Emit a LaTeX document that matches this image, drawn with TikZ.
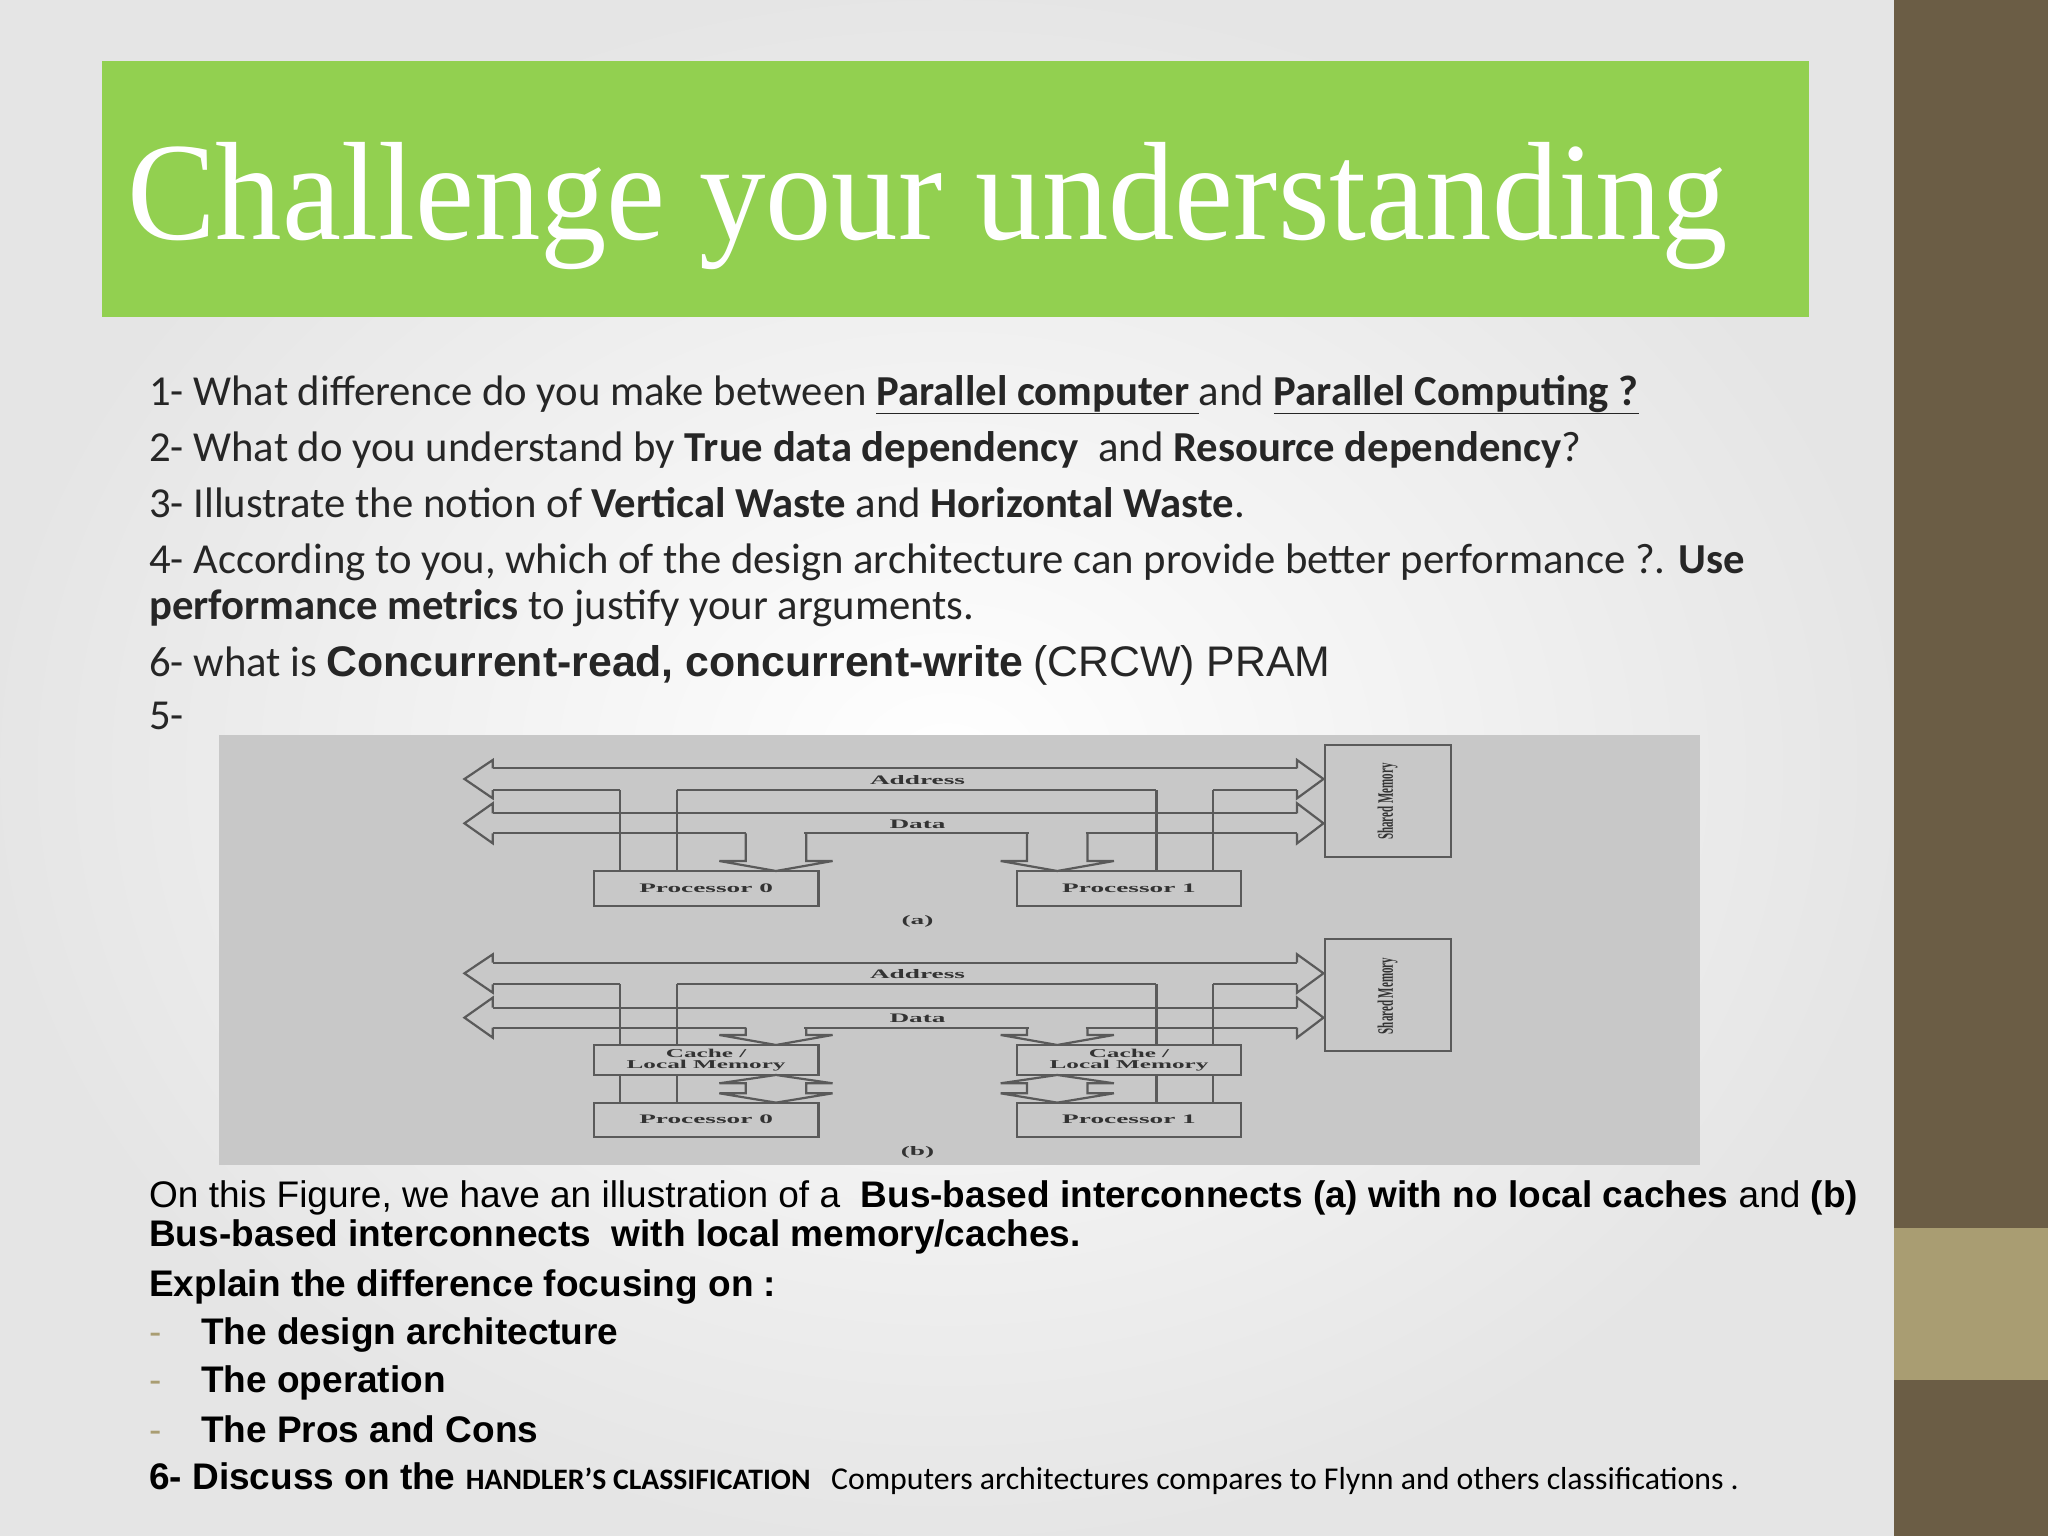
\documentclass[tikz,border=0pt]{standalone}
\usepackage{fontspec}
\usepackage{graphicx}
\setmainfont{Carlito}
\newfontfamily\arialf{Liberation Sans}
\newfontfamily\timesf{Liberation Serif}
\definecolor{gbar}{HTML}{92D050}
\definecolor{strip}{HTML}{6B5D45}
\definecolor{band}{HTML}{A99D72}
\definecolor{figbg}{HTML}{C8C8C8}
\definecolor{ln}{HTML}{5A5A5A}
\definecolor{dashc}{HTML}{A99D72}
\tikzset{
 body/.style={anchor=base west,inner sep=0pt,font=\fontsize{42.7}{49}\selectfont,text=black!85},
 bodya/.style={anchor=base west,inner sep=0pt,font=\arialf\fontsize{37}{42}\selectfont,text=black},
 fl/.style={draw=ln,line width=2.2pt},
 fbox/.style={draw=ln,line width=2.2pt},
 ft/.style={font=\timesf\bfseries\fontsize{13}{14}\selectfont,text=black!80,inner sep=0pt},
}
\newcommand\fw[1]{\scalebox{2.1}[1]{#1}}
\begin{document}
\begin{tikzpicture}[x=1pt,y=-1pt]
\useasboundingbox (0,0) rectangle (2048,1536);
\shade[inner color=white,outer color=black!10] (0,0) rectangle (1894,1536);
\fill[strip] (1894,0) rectangle (2048,1536);
\fill[band] (1894,1228) rectangle (2048,1380);
\fill[gbar] (102,61) rectangle (1809,317);
\node[anchor=base west,inner sep=0pt,text=white,font=\timesf\fontsize{140}{150}\selectfont] (title) at (127,239) {\resizebox{1601pt}{\height}{Challenge your understanding}};

\node[body] (l1) at (149,405) {1- What difference do you make between \textbf{\underline{Parallel computer }}and \textbf{\underline{Parallel Computing ?}}};
\node[body] (l2) at (149,461) {2- What do you understand by \textbf{True data dependency}\ \ and \textbf{Resource dependency}?};
\node[body] (l3) at (149,517) {3- Illustrate the notion of \textbf{Vertical Waste} and \textbf{Horizontal Waste}.};
\node[body] (l4) at (149,573) {4- According to you, which of the design architecture can provide better performance ?. \textbf{Use}};
\node[body] (l4b) at (149,619) {\textbf{performance metrics} to justify your arguments.};
\node[body] (l6) at (149,676) {6- what is {\arialf\bfseries\fontsize{42.8}{46}\selectfont Concurrent-read, concurrent-write} {\arialf\fontsize{42.8}{46}\selectfont (CRCW) PRAM}};
\node[body] (l5) at (149,729) {5-};

\fill[figbg] (219,735) rectangle (1700,1165);
\begin{scope}[shift={(219,735)},xscale=0.944,yscale=0.3333]
 \foreach \dy/\tip in {0/408,583/347}{
 \begin{scope}[yshift=-\dy pt]
  \draw[fl] (290,100) -- (1142,100);
  \draw[fl] (290,165) -- (425,165) (485,165) -- (993,165) (1053,165) -- (1142,165);
  \draw[fl] (1142,100) -- (1142,75) -- (1170,132) -- (1142,190) -- (1142,165);
  \draw[fl] (290,100) -- (290,75) -- (260,132) -- (290,190) -- (290,165);
  \node[ft] at (740,135) {\fw{Address}};
  \draw[fl] (290,235) -- (1142,235);
  \draw[fl] (290,295) -- (558,295) (620,295) -- (858,295) (918,295) -- (1142,295);
  \draw[fl] (1142,235) -- (1142,205) -- (1170,265) -- (1142,325) -- (1142,295);
  \draw[fl] (290,235) -- (290,205) -- (260,265) -- (290,325) -- (290,295);
  \node[ft] at (740,268) {\fw{Data}};
  \foreach \c in {590,888}{
   \draw[fl] (\c-32,295) -- (\c-32,\tip-30) -- (\c-60,\tip-30) -- (\c,\tip) -- (\c+60,\tip-30) -- (\c+32,\tip-30) -- (\c+32,295);
  }
  \draw[fbox] (1172,30) rectangle (1305,365);
  \node[ft,rotate=90,font=\timesf\bfseries\fontsize{22}{24}\selectfont] at (1238,200) {\scalebox{0.5}[1]{Shared Memory}};
 \end{scope}
 }
 \draw[fbox] (397,408) rectangle (635,512);
 \node[ft] at (516,460) {\fw{Processor 0}};
 \draw[fbox] (845,408) rectangle (1083,512);
 \node[ft] at (964,460) {\fw{Processor 1}};
 \foreach \x in {425,485,993,1053}{\draw[fl] (\x,165) -- (\x,408);}
 \node[ft] at (740,560) {\fw{(a)}};
 \foreach \x in {425,485,993,1053}{\draw[fl] (\x,748) -- (\x,930) (\x,1020) -- (\x,1103);}
 \foreach \cx/\nm in {516/0,964/1}{
  \draw[fbox,fill=figbg] (\cx-119,930) rectangle (\cx+119,1020);
  \node[ft,align=center,font=\timesf\bfseries\fontsize{12}{11}\selectfont] at (\cx,976) {\fw{Cache /}\\\fw{Local Memory}};
  \draw[fbox] (\cx-119,1103) rectangle (\cx+119,1205);
  \node[ft] at (\cx,1153) {\fw{Processor \nm}};
 }
 \foreach \c in {590,888}{
  \draw[fl] (\c-32,1045) -- (\c-60,1045) -- (\c,1020) -- (\c+60,1045) -- (\c+32,1045) -- (\c+32,1075) -- (\c+60,1075) -- (\c,1103) -- (\c-60,1075) -- (\c-32,1075) -- cycle;
 }
 \node[ft] at (740,1253) {\fw{(b)}};
\end{scope}

\node[bodya] (b1) at (149,1207) {On this Figure, we have an illustration of a \ \textbf{Bus-based interconnects (a) with no local caches} and \textbf{(b)}};
\node[bodya,font=\arialf\bfseries\fontsize{37}{42}\selectfont] (b2) at (149,1246) {Bus-based interconnects\ \ with local memory/caches.};
\node[bodya,font=\arialf\bfseries\fontsize{37}{42}\selectfont] (b3) at (149,1296) {Explain the difference focusing on :};
\foreach \yy/\tt in {1344/The design architecture,1392/The operation,1442/The Pros and Cons}{
 \node[bodya,text=dashc] at (149,\yy) {-};
 \node[bodya,font=\arialf\bfseries\fontsize{37}{42}\selectfont] at (201,\yy) {\tt};
}
\node[bodya] (b7) at (149,1489) {\textbf{6- Discuss on the} {\rmfamily\bfseries\fontsize{29.7}{32}\selectfont HANDLER'S CLASSIFICATION}\ \ {\rmfamily\fontsize{31.8}{32}\selectfont Computers architectures compares to Flynn and others classifications .}};
\end{tikzpicture}
\end{document}
